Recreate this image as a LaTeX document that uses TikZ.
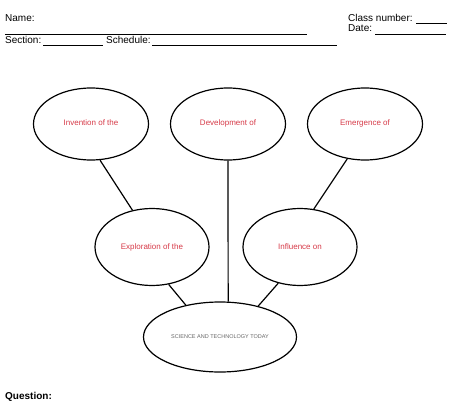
\documentclass[tikz,border=0pt]{standalone}
\usepackage{fontspec}
\setmainfont{Liberation Sans}
\usetikzlibrary{shapes.geometric}
\definecolor{labelred}{RGB}{214,58,72}

\begin{document}
\begin{tikzpicture}[x=1pt,y=-1pt,
every node/.style={inner sep=0pt},
form/.style={anchor=base west,font=\fontsize{10}{12}\selectfont},
blank/.style={line width=0.6pt},
bubble/.style={ellipse,draw,line width=1.2pt,minimum width=115pt,minimum height=72pt,
  font=\fontsize{8}{9}\selectfont,text=labelred}]
\useasboundingbox (0,0) rectangle (474,404);
% header of the sheet
\node[form] (name) at (5,22) {Name:};
\node[form] (section) at (5,44) {Section:};
\node[form] (sched) at (106,44) {Schedule:};
\node[form] (classno) at (348,22) {Class number:};
\node[form] (date) at (348,32) {Date:};
\draw[blank] (5,34)--(307,34);
\draw[blank] (43,45)--(103,45);
\draw[blank] (152,45)--(337,45);
\draw[blank] (416,23)--(447,23);
\draw[blank] (375,34)--(446,34);
% bubbles
\node[bubble] (inv) at (91,124) {\raisebox{2pt}{Invention of the}};
\node[bubble] (dev) at (228,124) {\raisebox{2pt}{Development of}};
\node[bubble] (emg) at (365,124) {\raisebox{2pt}{Emergence of}};
\node[bubble,minimum width=114pt,minimum height=77pt] (exp) at (152,247) {Exploration of the};
\node[bubble,minimum width=114pt,minimum height=77pt] (inf) at (300,247) {Influence on};
\node[bubble,minimum width=153pt,minimum height=70pt,text=black!60,
  font=\fontsize{5.5}{6}\selectfont] (topic) at (220,337) {SCIENCE AND TECHNOLOGY TODAY};
\draw[line width=1.2pt] (inv.-76)--(exp.118);
\draw[line width=1.2pt] (emg.-117)--(inf.70);
\draw[line width=1.2pt] (dev.south)--(topic.77);
\draw[line width=1.2pt] (exp.-66)--(topic.137);
\draw[line width=1.2pt] (inf.-121)--(topic.39);
\node[form,font=\fontsize{10}{12}\selectfont\bfseries] (quest) at (5,399) {Question:};
\end{tikzpicture}
\end{document}
